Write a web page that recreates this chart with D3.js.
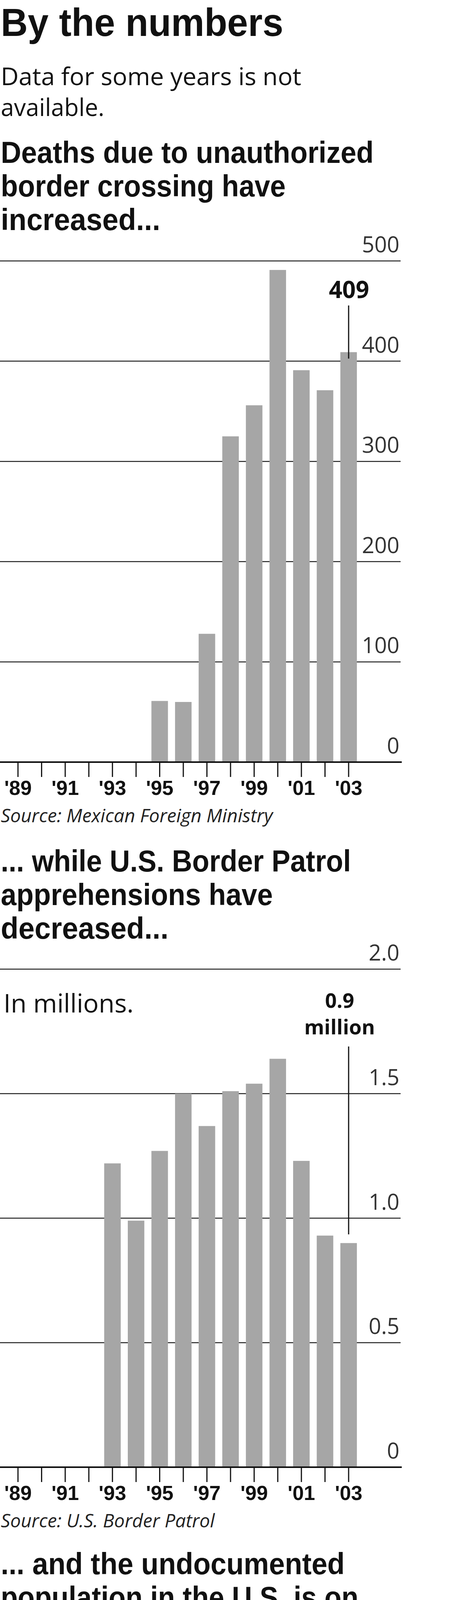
<!DOCTYPE html>
<html><head><meta charset="utf-8">
<script src="https://cdn.jsdelivr.net/npm/d3@7"></script>
<style>body{margin:0;background:#fff}svg{display:block}</style>
</head><body>
<script>
const years = d3.range(1989, 2004);
const yearLabels = ["'89","'91","'93","'95","'97","'99","'01","'03"];
const deathYears = [1995,1996,1997,1998,1999,2000,2001,2002,2003];
const deathValues = [61,60,128,325,356,491,391,371,409];
const deathTicks = [0,100,200,300,400,500];
const appYears = [1993,1994,1995,1996,1997,1998,1999,2000,2001,2002,2003];
const appValues = [1.22,0.99,1.27,1.50,1.37,1.51,1.54,1.64,1.23,0.93,0.90];
const appTicks = [0,0.5,1.0,1.5,2.0];
const popYears = [1989,1992,1996,2000,2003];
const popValues = [2.5,3.85,5.0,8.4,9.7];
const popTicks = [0,2,4,6,8,10];

const W = 1200, H = 5872;
const svg = d3.select("body").append("svg").attr("width", W).attr("height", H);
const heavy = "'Liberation Sans', Arial, sans-serif";
const light = "'Open Sans', 'DejaVu Sans', sans-serif";
const x = d3.scaleLinear().domain([1989, 2003]).range([46, 892]);
const barW = (x(1990) - x(1989)) * 0.7;

function fitText(t, xx, yy, size, len, weight, family) {
  svg.append("text").attr("x", xx).attr("y", yy).attr("font-size", size)
    .attr("font-weight", weight).attr("font-family", family)
    .attr("textLength", len).attr("lengthAdjust", "spacingAndGlyphs")
    .attr("fill", "#111").text(t);
}
fitText("By the numbers", 2, 92, 100, 723, 900, heavy);
fitText("Data for some years is not", 2, 218, 62, 769, 400, light);
fitText("available.", 2, 297, 62, 265, 400, light);

function chart(o) {
  const y = d3.scaleLinear().domain([0, o.max]).range([o.base, o.top]);
  o.heads.forEach((h, i) => fitText(h[0], 2, o.headY + i * 86, 78, h[1], 900, heavy));
  const g = svg.append("g");
  g.selectAll("line.grid").data(o.ticks.slice(1)).join("line")
    .attr("x1", 0).attr("x2", 1025).attr("y1", d => y(d)).attr("y2", d => y(d))
    .attr("stroke", "#222").attr("stroke-width", 2.5);
  g.selectAll("text.tick").data(o.ticks).join("text")
    .attr("x", 1022).attr("y", d => y(d) - 22).attr("text-anchor", "end")
    .attr("font-size", 56).attr("font-family", light).attr("fill", "#333")
    .text(d => o.fmt(d));
  if (o.inMillions) g.append("text").attr("x", 9).attr("y", o.inMillions)
    .attr("font-size", 66).attr("font-family", light).attr("fill", "#111").text("In millions.");
  g.selectAll("rect").data(o.years.map((yr, i) => [yr, o.values[i]])).join("rect")
    .attr("x", d => x(d[0]) - barW / 2).attr("width", barW)
    .attr("y", d => y(d[1])).attr("height", d => y(0) - y(d[1]))
    .attr("fill", "#a6a6a6");
  g.append("line").attr("x1", 0).attr("x2", 1028).attr("y1", y(0)).attr("y2", y(0))
    .attr("stroke", "#111").attr("stroke-width", 4);
  g.selectAll("line.tk").data(years).join("line")
    .attr("x1", d => x(d)).attr("x2", d => x(d)).attr("y1", y(0)).attr("y2", y(0) + 38)
    .attr("stroke", "#111").attr("stroke-width", 3);
  g.selectAll("text.yl").data(yearLabels).join("text")
    .attr("x", (d, i) => x(1989 + 2 * i)).attr("y", y(0) + 84).attr("text-anchor", "middle")
    .attr("font-size", 52).attr("font-weight", 700).attr("font-family", heavy).attr("fill", "#111")
    .text(d => d);
  g.append("text").attr("x", 2).attr("y", y(0) + 154).attr("font-size", 48)
    .attr("font-style", "italic").attr("font-family", light).attr("fill", "#222").text(o.source);
  const ax = x(2003);
  o.ann.forEach(a => g.append("text").attr("x", a[1]).attr("y", a[2])
    .attr("text-anchor", "middle").attr("font-size", a[3]).attr("font-weight", 700)
    .attr("font-family", light).attr("fill", "#111").text(a[0]));
  g.append("line").attr("x1", ax).attr("x2", ax).attr("y1", o.annLine[0]).attr("y2", o.annLine[1])
    .attr("stroke", "#111").attr("stroke-width", 3);
}

chart({heads:[["Deaths due to unauthorized",954],["border crossing have",729],["increased...",408]],
  headY:417, max:500, base:1951, top:668, ticks:deathTicks, fmt:d=>d,
  years:deathYears, values:deathValues, source:"Source: Mexican Foreign Ministry",
  ann:[["409",893,763,60]], annLine:[782,918]});
chart({heads:[["... while U.S. Border Patrol",896],["apprehensions have",696],["decreased...",429]],
  headY:2231, max:2.0, base:3756, top:2481, ticks:appTicks, fmt:d=>d===0?"0":d3.format(".1f")(d),
  inMillions:2592, years:appYears, values:appValues, source:"Source: U.S. Border Patrol",
  ann:[["0.9",869,2580,52],["million",869,2648,52]], annLine:[2679,3160]});
chart({heads:[["... and the undocumented",880],["population in the U.S. is on",915],["the rise.",285]],
  headY:4030, max:10, base:5590, top:4311, ticks:popTicks, fmt:d=>d,
  inMillions:4422, years:popYears, values:popValues, source:"Source: Jeff Passel, Urban Institute",
  ann:[["9.7",893,4228,60]], annLine:[4252,4372]});

svg.append("line").attr("x1", 0).attr("x2", 1028).attr("y1", 5804).attr("y2", 5804)
  .attr("stroke", "#444").attr("stroke-width", 2.5);
svg.append("text").attr("x", 1028).attr("y", 5860).attr("text-anchor", "end")
  .attr("font-size", 50).attr("font-weight", 700).attr("font-style", "italic")
  .attr("font-family", "'Liberation Serif', serif").attr("fill", "#111").text("Chronicle Graphic");
</script>
</body></html>
